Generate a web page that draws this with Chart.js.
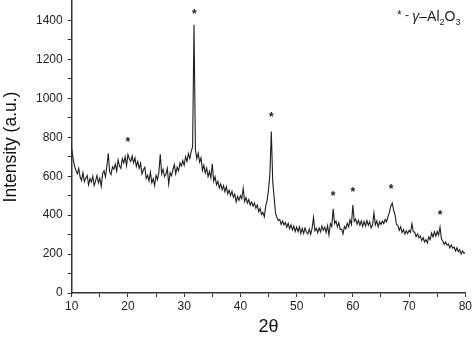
<!DOCTYPE html>
<html><head><meta charset="utf-8">
<script src="https://cdn.jsdelivr.net/npm/chart.js@4/dist/chart.umd.min.js"></script>
<style>html,body{margin:0;padding:0;background:#fff}#wrap{width:474px;height:338px;position:relative}</style>
</head><body><div id="wrap"><canvas id="c"></canvas></div>
<script>
// Sampling grid of the scan (degrees 2θ)
const startAngle = 10;
const angleStep = 0.25;
// Intensity, one value per 0.25° from 10° to 80°
const intensity = [
740,690,652,630, 612,640,596,578, 618,572,590,604, 556,588,570,600, 552,576,604,566,
590,548,612,628, 596,650,718,622, 608,648,636,662, 626,684,652,640, 690,668,700,654,
712,690,676,704, 668,694,650,676, 640,666,612,632, 646,588,604,576, 620,566,588,552,
604,582,620,712, 612,636,598,610, 640,560,618,602, 632,660,612,646, 628,668,652,680,
656,700,676,716, 690,726,752,1378, 736,690,718,672, 694,630,656,616, 642,598,624,592,
664,574,598,556, 574,540,560,530, 552,520,546,510, 528,500,522,492, 508,468,496,476,
500,484,538,470, 490,462,480,452, 468,446,462,436, 452,418,434,404, 414,392,446,476,
530,612,830,572, 490,410,388,372, 378,352,370,350, 362,338,358,330, 350,324,344,316,
338,314,340,306, 332,306,334,312, 304,328,302,332, 388,320,332,310, 334,314,344,322,
338,310,346,298, 356,342,432,356, 370,340,362,326, 328,304,342,330, 358,340,376,352,
452,368,380,354, 374,348,370,342, 368,344,372,348, 366,334,348,412, 350,370,340,366,
352,370,356,378, 366,392,414,446, 462,426,402,352, 348,322,340,310, 326,302,320,306,
322,312,356,314, 312,290,304,284, 292,270,284,262, 274,258,288,274, 308,288,314,292,
316,298,338,278, 266,250,262,246, 252,232,246,230, 236,216,232,212, 222,200,216,204,
208
];
// γ-Al2O3 reflection markers (*)
const markAngles = [20, 31.8, 45.5, 56.5, 60, 66.8, 75.5];
const markHeights = [790, 1446, 918, 508, 533, 544, 410];

const scan = intensity.map((v, i) => ({x: startAngle + i * angleStep, y: v}));
const marks = markAngles.map((a, i) => ({x: a, y: markHeights[i]}));

const FONT = '"Liberation Sans", Arial, sans-serif';

const starMarks = {
  id: 'starMarks',
  afterDatasetsDraw(chart) {
    const ctx = chart.ctx, xs = chart.scales.x, ys = chart.scales.y;
    ctx.save();
    ctx.fillStyle = '#222';
    ctx.font = 'bold 12px ' + FONT;
    ctx.textAlign = 'center';
    ctx.textBaseline = 'middle';
    marks.forEach(m => ctx.fillText('*', xs.getPixelForValue(m.x), ys.getPixelForValue(m.y) + 3));
    ctx.restore();
  }
};

const legendText = {
  id: 'legendText',
  afterDraw(chart) {
    const ctx = chart.ctx;
    ctx.save();
    ctx.fillStyle = '#222';
    ctx.textBaseline = 'alphabetic';
    let x = 397, y = 21;
    const put = (t, font, dy) => { ctx.font = font; ctx.fillText(t, x, y + (dy||0)); x += ctx.measureText(t).width; };
    put('* - ', '12px ' + FONT, -2);
    put('γ', 'italic 14px ' + FONT);
    put('–Al', '14px ' + FONT);
    put('2', '9px ' + FONT, 4);
    put('O', '14px ' + FONT);
    put('3', '9px ' + FONT, 4);
    ctx.restore();
  }
};

new Chart(document.getElementById('c'), {
  type: 'line',
  data: {
    datasets: [
      {data: scan, borderColor: '#1e1e1e', borderWidth: 1.1, pointRadius: 0, tension: 0, fill: false}
    ]
  },
  options: {
    responsive: true, maintainAspectRatio: false, animation: false,
    layout: {padding: {left: 1, right: 3, top: 1, bottom: 0}},
    plugins: {legend: {display: false}, tooltip: {enabled: false}},
    scales: {
      x: {
        type: 'linear', min: 10, max: 80,
        ticks: {stepSize: 5, autoSkip: false, maxRotation: 0, color: '#222', padding: 2,
          font: {family: FONT, size: 12},
          callback: v => (v % 10 === 0 ? v : '')},
        grid: {display: true, drawOnChartArea: false, tickLength: 4, color: '#333', tickWidth: 1},
        border: {display: true, color: '#333', width: 1.5},
        title: {display: true, text: '2θ', color: '#111', padding: {top: 1, bottom: 0},
          font: {family: FONT, size: 18}}
      },
      y: {
        min: 0, max: 1500,
        afterFit: s => { s.paddingTop = 0; },
        ticks: {stepSize: 100, autoSkip: false, color: '#222', padding: 5,
          font: {family: FONT, size: 12},
          callback: v => (v > 1400 ? null : (v % 200 === 0 ? v : ''))},
        grid: {display: true, drawOnChartArea: false, tickLength: 4, color: '#333', tickWidth: 1},
        border: {display: true, color: '#333', width: 1.5},
        title: {display: true, text: 'Intensity (a.u.)', color: '#111', padding: {top: 0, bottom: 9},
          font: {family: FONT, size: 17.5}}
      }
    }
  },
  plugins: [starMarks, legendText]
});
</script>
</body></html>
